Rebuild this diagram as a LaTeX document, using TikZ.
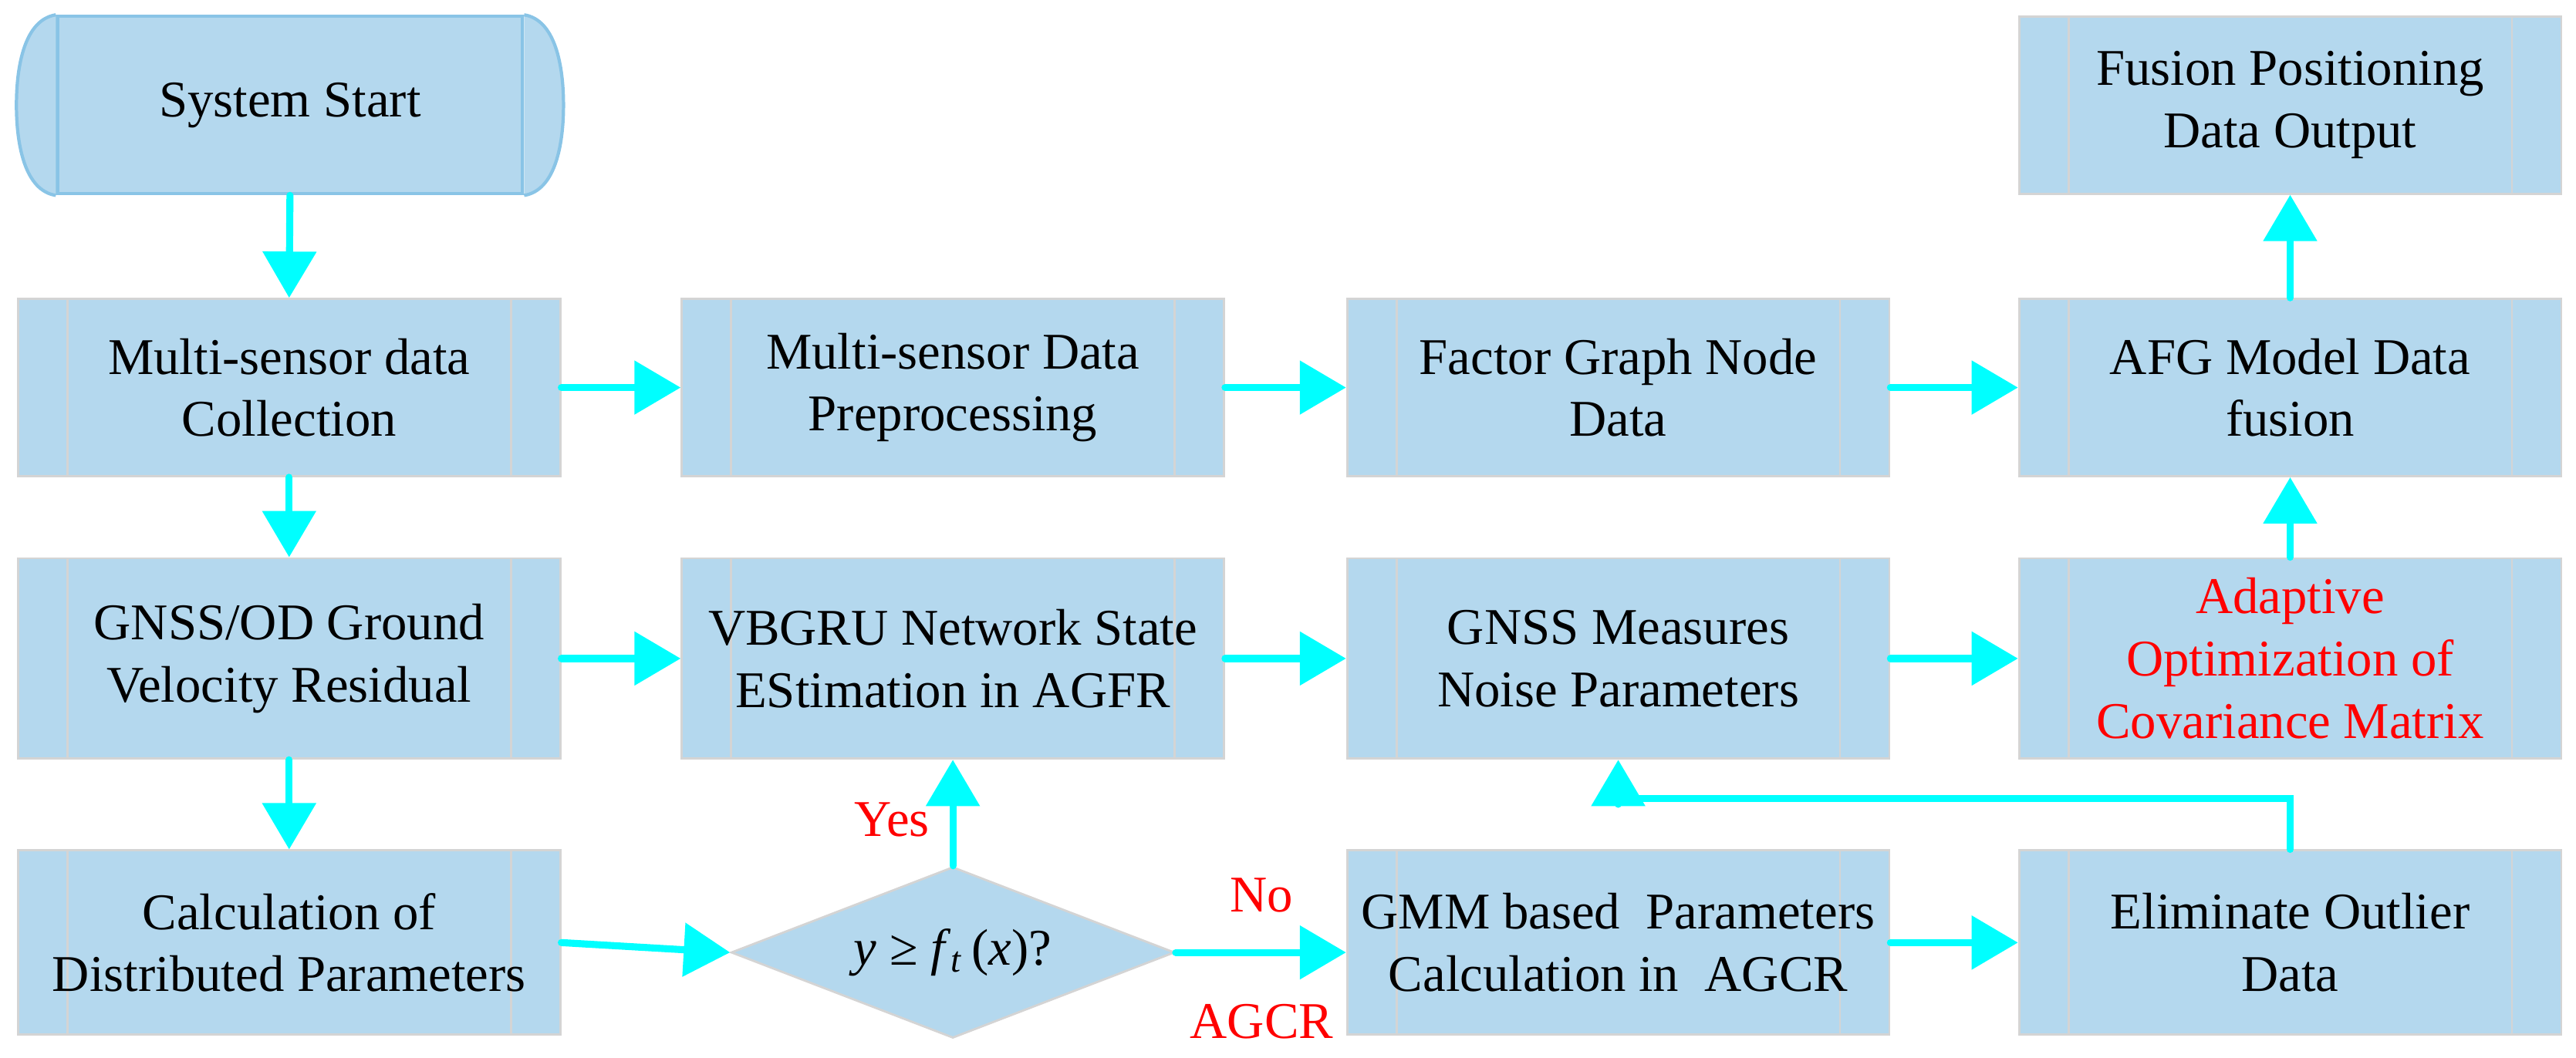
\documentclass[tikz,border=0pt]{standalone}
\usepackage{fontspec}
\setmainfont{Liberation Serif}
\usetikzlibrary{shapes.geometric,arrows.meta,calc}
\definecolor{boxfill}{HTML}{B4D8EE}
\definecolor{boxline}{HTML}{D4D4D4}
\definecolor{startline}{HTML}{89C4E6}
\definecolor{arr}{HTML}{00FFFF}
\begin{document}
\begin{tikzpicture}[x=0.0213cm,y=-0.0213cm,
  font=\fontsize{19}{23}\selectfont,
  proc/.style={rectangle,fill=boxfill,draw=boxline,line width=0.8pt,minimum width=7.03cm,minimum height=2.30cm,align=center,inner sep=0pt,
    path picture={\draw[boxline,line width=0.8pt] ([xshift=0.64cm]path picture bounding box.north west) -- ([xshift=0.64cm]path picture bounding box.south west);
      \draw[boxline,line width=0.8pt] ([xshift=-0.64cm]path picture bounding box.north east) -- ([xshift=-0.64cm]path picture bounding box.south east);}},
  tall/.style={minimum height=2.60cm},
  low/.style={minimum height=2.39cm},
  ar/.style={draw=arr,line width=2.6pt,line cap=round,-{Triangle[length=0.6cm,width=0.68cm]}},
  lab/.style={text=red}]
\useasboundingbox (0,0) rectangle (1568,644);
% start terminal
\node[rectangle,fill=boxfill,draw=startline,line width=1.2pt,minimum width=6.03cm,minimum height=2.30cm,inner sep=0pt] (start) at (176.5,64) {System Start};
\draw[startline,line width=1.2pt,fill=boxfill] (start.north west) .. controls (15,12) and (10,40) .. (10,64) .. controls (10,88) and (15,116) .. (start.south west);
\draw[startline,line width=1.2pt,fill=boxfill] (start.north east) .. controls (338,12) and (343,40) .. (343,64) .. controls (343,88) and (338,116) .. (start.south east);
\node[proc] (out) at (1394,64) {Fusion Positioning\\Data Output};
% row 2
\node[proc] (msc) at (176,236) {Multi-sensor data\\Collection};
\node[proc] (mdp) at (580,236) {Multi-sensor Data\\Preprocessing};
\node[proc] (fgn) at (985,236) {Factor Graph Node\\Data};
\node[proc] (afg) at (1394,236) {AFG Model Data\\fusion};
% row 3
\node[proc,tall] (gvr) at (176,401) {GNSS/OD Ground\\Velocity Residual};
\node[proc,tall] (vbg) at (580,401) {VBGRU Network State\\EStimation in AGFR};
\node[proc,tall] (gmn) at (985,401) {GNSS Measures\\Noise Parameters};
\node[proc,tall,text=red] (aoc) at (1394,401) {Adaptive\\Optimization of\\Covariance Matrix};
% row 4
\node[proc,low] (cdp) at (176,574) {Calculation of\\Distributed Parameters};
\node[diamond,fill=boxfill,draw=boxline,line width=0.8pt,minimum width=5.75cm,minimum height=2.22cm,inner sep=0pt,aspect=2.6] (dec) at (580,580) {\textit{y} ≥ \textit{f}\textsubscript{\textit{t}}\,(\textit{x})?};
\node[proc,low] (gmm) at (985,574) {GMM based\ \ Parameters\\Calculation in\ \ AGCR};
\node[proc,low] (eod) at (1394,574) {Eliminate Outlier\\Data};
% arrows
\draw[ar] (start.south) -- (msc.north);
\draw[ar] (msc.east) -- (mdp.west);
\draw[ar] (mdp.east) -- (fgn.west);
\draw[ar] (fgn.east) -- (afg.west);
\draw[ar] (msc.south) -- (gvr.north);
\draw[ar] (gvr.south) -- (cdp.north);
\draw[ar] (gvr.east) -- (vbg.west);
\draw[ar] (vbg.east) -- (gmn.west);
\draw[ar] (gmn.east) -- (aoc.west);
\draw[ar] (aoc.north) -- (afg.south);
\draw[ar] (afg.north) -- (out.south);
\draw[ar] (cdp.east) -- (dec.west);
\draw[ar] (dec.north) -- (vbg.south);
\draw[ar] (dec.east) -- (gmm.west |- dec.east);
\draw[ar] (gmm.east) -- (eod.west);
\draw[ar] (eod.north) -- ++(0,-31) -| (gmn.south);
% labels
\node[lab] (yes) at (543,499) {Yes};
\node[lab] (no) at (768,545) {No};
\node[lab] (agcr) at (768,622) {AGCR};
\end{tikzpicture}
\end{document}
